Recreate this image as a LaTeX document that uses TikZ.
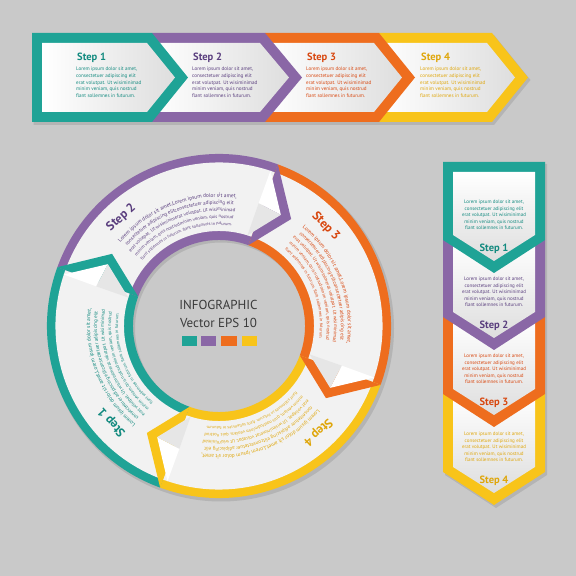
\documentclass[tikz,border=0pt]{standalone}
\usepackage{fontspec}
\setmainfont{PT Sans}
\usetikzlibrary{decorations.text}
\definecolor{bgc}{HTML}{C9C9C9}
\definecolor{tealc}{HTML}{1FA396}
\definecolor{purc}{HTML}{8A67A6}
\definecolor{orac}{HTML}{EE6D1E}
\definecolor{yelc}{HTML}{F8C41A}
\definecolor{tealt}{HTML}{128A7F}
\definecolor{purt}{HTML}{5A3E7E}
\definecolor{orat}{HTML}{D8470F}
\definecolor{yelt}{HTML}{DFA60A}
\definecolor{lightc}{HTML}{F2F2F2}
\definecolor{foldc}{HTML}{DEDEDE}
\definecolor{foldb}{HTML}{E6E6E6}
\definecolor{darkt}{HTML}{3A3A3A}
\newcommand\ringline[6]{%
  \path[decorate,decoration={text along path,text align=center,text color=#5,
    text={|\fontsize{#4}{#4}\selectfont|#6}}]
    (#1:#3) arc[start angle=#1,end angle=#2,radius=#3];}
\newcommand\ringtext[3]{%
  \ringline{#1}{#2}{129}{5.4}{#3}{Lorem ipsum dolor sit amet,Lorem ipsum dolor sit amet,}
  \ringline{#1}{#2}{122}{5.05}{#3}{consectetuer adipiscing elitconsectetuer adipiscing elit}
  \ringline{#1}{#2}{115}{4.8}{#3}{erat volutpat. Ut wisiminimerat volutpat. Ut wisiminimad}
  \ringline{#1}{#2}{108}{4.55}{#3}{minim veniam, quis nostrudminim veniam, quis nostrud}
  \ringline{#1}{#2}{101}{4.25}{#3}{flant sollemnes in futurum. flant sollemnes in futurum.}}
\newcommand\hstep[5]{% x0, xe, apex, color, light left
  \fill[#4] (#1,543) -- (#2,543) -- (#3,498.5) -- (#2,454) -- (#1,454) -- cycle;
  \shade[left color=white,right color=foldc] (#5,533) -- ({#2-5},533) -- ({#3-13},498.5) -- ({#2-5},464) -- (#5,464) -- cycle;}
\newcommand\vstep[4]{% top, apex, color, light top
  \fill[#3] (443,#1) -- (545,#1) -- (545,{#2+33}) -- (494,#2) -- (443,{#2+33}) -- cycle;
  \shade[top color=white,bottom color=foldc] (453,#4) -- (535,#4) -- (535,{#2+38}) -- (494,{#2+12}) -- (453,{#2+38}) -- cycle;}
\newcommand\loremtxt{Lorem ipsum dolor sit amet,\\consectetuer adipiscing elit\\erat volutpat. Ut wisiminimad\\minim veniam, quis nostrud\\flant sollemnes in futurum.}
\tikzset{
  htitle/.style={anchor=west,inner sep=0,font=\bfseries\fontsize{10.5}{10.5}\selectfont},
  hlorem/.style={anchor=north west,inner sep=0,align=left,font=\fontsize{5.1}{6.7}\selectfont},
  vtitle/.style={inner sep=0,font=\bfseries\fontsize{10.5}{10.5}\selectfont},
  vlorem/.style={inner sep=0,align=center,font=\fontsize{5}{6.5}\selectfont},
  ringlab/.style={inner sep=0,font=\bfseries\fontsize{12.5}{12.5}\selectfont},
  shadowc/.style={fill=black,opacity=0.10}
}
\begin{document}
\begin{tikzpicture}[x=1pt,y=1pt]
\useasboundingbox (0,0) rectangle (576,576);
\fill[bgc] (0,0) rectangle (576,576);
% shadows
\fill[shadowc] (33.5,541) -- (494,541) -- (530.5,496) -- (494,451) -- (33.5,451) -- cycle;
\fill[shadowc] (445,412) -- (547,412) -- (547,101) -- (496,68) -- (445,101) -- cycle;
\fill[shadowc,even odd rule] (221,247.5) circle (173) (221,247.5) circle (86);
% top strip
\hstep{379}{492}{528}{yelc}{379}
\hstep{265}{379}{415}{orac}{265}
\hstep{152}{265}{302}{purc}{152}
\hstep{32}{152}{188}{tealc}{42}
\node[htitle,text=tealt] (h1) at (77,518) {Step 1};
\node[htitle,text=purt] (h2) at (193,518) {Step 2};
\node[htitle,text=orat] (h3) at (307,518) {Step 3};
\node[htitle,text=yelt] (h4) at (421,518) {Step 4};
\node[hlorem,text=tealt] (hl1) at (76,509) {\loremtxt};
\node[hlorem,text=purt] (hl2) at (192,509) {\loremtxt};
\node[hlorem,text=orat] (hl3) at (306,509) {\loremtxt};
\node[hlorem,text=yelt] (hl4) at (420,509) {\loremtxt};
% right column
\vstep{182}{71}{yelc}{182}
\vstep{259}{149}{orac}{259}
\vstep{336}{226}{purc}{336}
\vstep{414}{303}{tealc}{404}
\node[vtitle,text=tealt] (v1) at (494,327) {Step 1};
\node[vtitle,text=purt] (v2) at (494,250) {Step 2};
\node[vtitle,text=orat] (v3) at (494,173) {Step 3};
\node[vtitle,text=yelt] (v4) at (494,95) {Step 4};
\node[vlorem,text=tealt] (vl1) at (494,361) {\loremtxt};
\node[vlorem,text=purt] (vl2) at (494,284) {\loremtxt};
\node[vlorem,text=orat] (vl3) at (494,207) {\loremtxt};
\node[vlorem,text=yelt] (vl4) at (494,129) {\loremtxt};
% ring
\begin{scope}[shift={(219,250)}]
\foreach \S/\E/\c in {250/160/tealc,160/70/purc,70/-20/orac,-20/-110/yelc}{
  \fill[\c] (\S:172) arc[start angle=\S,end angle=\E,radius=172] -- (\E:86) arc[start angle=\E,end angle=\S,radius=86] -- cycle;
  \fill[lightc] (\S:163.5) arc[start angle=\S,end angle=\E,radius=163.5] -- (\E:95) arc[start angle=\E,end angle=\S,radius=95] -- cycle;
  \fill[foldb] ({\S-0.5}:163.5) -- ({\S-9}:140) -- ({\S-0.5}:95) -- cycle;
}
\foreach \E/\c in {160/tealc,70/purc,-20/orac,-110/yelc}{
  \fill[\c] (\E:172) -- ({\E-14}:129) -- (\E:86) -- cycle;
  \fill[white] ({\E+1.65}:163.5) -- ({\E-9.1}:127.2) -- ({\E+2.1}:129) -- cycle;
  \fill[foldb] ({\E+2.1}:129) -- ({\E-9.1}:127.2) -- ({\E+2.6}:95) -- cycle;
}
\ringtext{230}{172}{tealt}
\ringtext{140}{82}{purt}
\ringtext{50}{-8}{orat}
\ringtext{-40}{-98}{yelt}
\node[ringlab,text=tealt,rotate=132] (r1) at (222:144) {Step 1};
\node[ringlab,text=purt,rotate=42] (r2) at (132:146) {Step 2};
\node[ringlab,text=orat,rotate=-47] (r3) at (43:146) {Step 3};
\node[ringlab,text=yelt,rotate=-137] (r4) at (-47:145) {Step 4};
\end{scope}
% center
\node[inner sep=0,text=darkt,font=\fontsize{13}{13}\selectfont] (c1) at (218.5,271) {INFOGRAPHIC};
\node[inner sep=0,text=darkt,font=\fontsize{13}{13}\selectfont] (c2) at (218.5,253) {Vector EPS 10};
\fill[tealc] (182,230) rectangle (197,240);
\fill[purc] (201,230) rectangle (216,240);
\fill[orac] (221,230) rectangle (237,240);
\fill[yelc] (242,230) rectangle (257,240);
\end{tikzpicture}
\end{document}
